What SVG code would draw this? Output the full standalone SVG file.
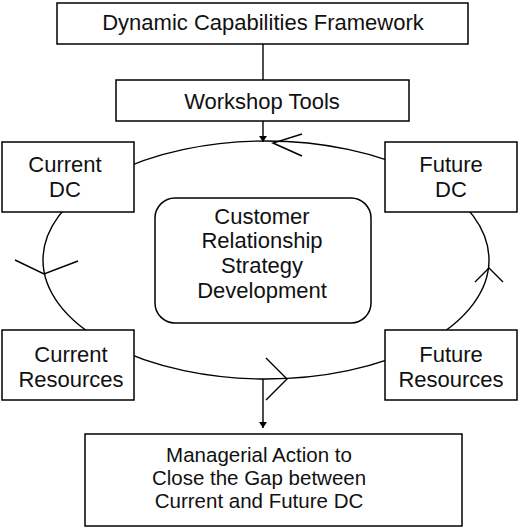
<svg xmlns="http://www.w3.org/2000/svg" width="519" height="528" viewBox="0 0 519 528">
<defs>
<marker id="tri" viewBox="0 0 10 10" refX="10" refY="5" markerWidth="6" markerHeight="8" markerUnits="userSpaceOnUse" orient="auto" preserveAspectRatio="none">
<path d="M0,0 L10,5 L0,10 Z" fill="#000"/>
</marker>
<style>
.box{fill:#fff;stroke:#000;stroke-width:1.5}
.ln{fill:none;stroke:#000;stroke-width:1.4}
text{font-family:"Liberation Sans",Arial,sans-serif;font-size:22px;fill:#111;text-anchor:middle}
.sm{font-size:20.5px}
</style>
</defs>
<rect width="519" height="528" fill="#fff"/>
<g id="connectors">
<line class="ln" x1="263" y1="44" x2="263" y2="80"/>
<line class="ln" x1="263" y1="121" x2="263" y2="142" marker-end="url(#tri)"/>
<ellipse class="ln" cx="266" cy="260" rx="223" ry="119"/>
<line class="ln" x1="263" y1="379" x2="263" y2="428" marker-end="url(#tri)"/>
<polyline class="ln" points="302,134 273,143 302,156"/>
<polyline class="ln" points="15,260 44,274 78,261"/>
<polyline class="ln" points="266,358 287,379 266,400"/>
<polyline class="ln" points="475,282 489,268 503,282"/>
</g>
<g id="framework">
<rect class="box" x="57" y="3" width="411" height="41"/>
<text x="263" y="30">Dynamic Capabilities Framework</text>
</g>
<g id="workshop">
<rect class="box" x="116" y="80" width="293" height="41"/>
<text x="262" y="109">Workshop Tools</text>
</g>
<g id="current-dc">
<rect class="box" x="2" y="142" width="132" height="70"/>
<text x="65" y="172">Current</text>
<text x="65" y="197">DC</text>
</g>
<g id="future-dc">
<rect class="box" x="385" y="142" width="132" height="70"/>
<text x="451" y="172">Future</text>
<text x="451" y="197">DC</text>
</g>
<g id="crsd">
<rect class="box" x="155" y="198" width="216" height="125" rx="20" ry="20"/>
<text x="262" y="224">Customer</text>
<text x="262" y="248">Relationship</text>
<text x="262" y="273">Strategy</text>
<text x="262" y="298">Development</text>
</g>
<g id="current-resources">
<rect class="box" x="2" y="330" width="132" height="70"/>
<text x="71" y="362">Current</text>
<text x="71" y="387">Resources</text>
</g>
<g id="future-resources">
<rect class="box" x="385" y="330" width="132" height="70"/>
<text x="451" y="362">Future</text>
<text x="451" y="387">Resources</text>
</g>
<g id="managerial-action">
<rect class="box" x="85" y="434" width="377" height="92"/>
<text class="sm" x="259" y="462">Managerial Action to</text>
<text class="sm" x="259" y="485">Close the Gap between</text>
<text class="sm" x="259" y="508">Current and Future DC</text>
</g>
</svg>
